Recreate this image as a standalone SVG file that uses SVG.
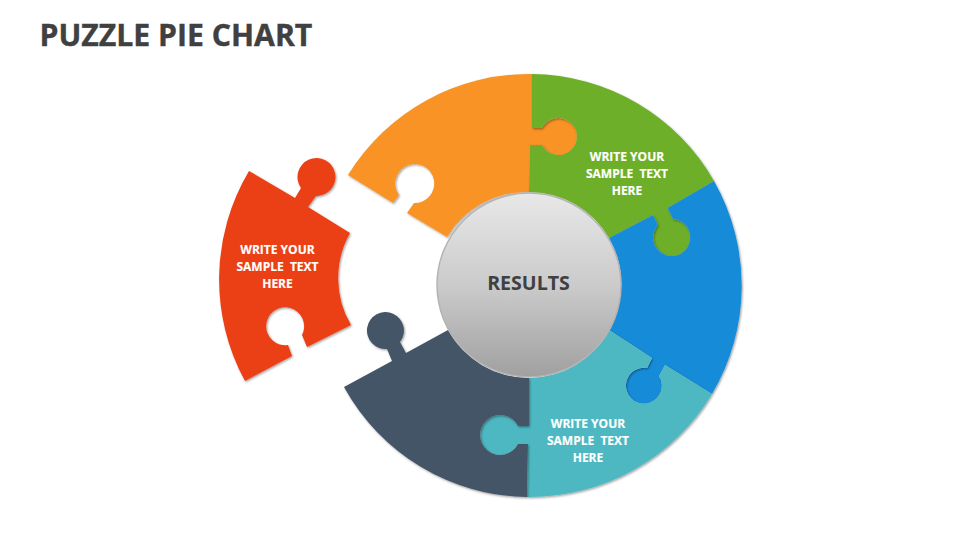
<svg xmlns="http://www.w3.org/2000/svg" width="960" height="540" viewBox="0 0 960 540">
<style>
.t{font-family:"Open Sans","Noto Sans","Liberation Sans",sans-serif;font-weight:700}
.l{font-size:12px;fill:#fff;text-anchor:middle;white-space:pre;stroke:#fff;stroke-width:.15px}
.p{filter:url(#s)}
</style>
<defs>
<filter id="s" x="-10%" y="-10%" width="120%" height="120%"><feDropShadow dx="1" dy="1.2" stdDeviation="1" flood-color="#000" flood-opacity=".38"/></filter>
<linearGradient id="g" x1="0" y1="0" x2="0" y2="1"><stop offset="0" stop-color="#e8e8e8"/><stop offset=".5" stop-color="#cbcbcb"/><stop offset="1" stop-color="#a0a0a0"/></linearGradient>
</defs>
<rect width="960" height="540" fill="#fff"/>
<text class="t" x="39.500" y="45.500" font-size="30.200" fill="#404040" stroke="#404040" stroke-width=".4">PUZZLE PIE CHART</text>
<g id="piece-orange"><path class="p" fill="#F99325" d="M348,175 A212,212 0 0 1 532,74 L532,128 L542,128 A18.500,18.500 0 1 1 542,145 L530,145 L529,192 A92,92 0 0 0 447,237 L407,213 L414,203 A19.500,19.500 0 1 0 399,195 L393,203 Z"/></g>
<g id="piece-green"><path class="p" fill="#6EAF29" d="M532,74 A212,212 0 0 1 714,181 L667.500,208 L673,219 A18.500,18.500 0 1 1 658,225 L653,215 L609,238 A92,92 0 0 0 529,192 L530,145 L542,145 A18.500,18.500 0 1 0 542,128 L532,128 Z"/>
<text class="t l" x="627" y="161">WRITE YOUR</text><text class="t l" x="627" y="178">SAMPLE  TEXT</text><text class="t l" x="627" y="195">HERE</text></g>
<g id="piece-blue"><path class="p" fill="#198CD8" d="M714,181 A212,212 0 0 1 712,394 L665,365 L659,376 A18,18 0 1 1 647,368 L652,358 L609,330 A92,92 0 0 0 609,238 L653,215 L658,225 A18.500,18.500 0 1 0 673,219 L667.500,208 Z"/></g>
<g id="piece-teal"><path class="p" fill="#4DB8C1" d="M609,330 L652,358 L647,368 A18,18 0 1 0 659,376 L665,365 L712,394 A212,212 0 0 1 527,497 L528,444 L518,444 A20,20 0 1 1 518,426 L529,426 L529,378 A92,92 0 0 0 609,330 Z"/>
<text class="t l" x="588" y="428">WRITE YOUR</text><text class="t l" x="588" y="445">SAMPLE  TEXT</text><text class="t l" x="588" y="462">HERE</text></g>
<g id="piece-navy"><path class="p" fill="#455468" d="M344,387 L392,361 L387,349 A18.500,18.500 0 1 1 400,342 L406,353 L448,330 A92,92 0 0 0 529,378 L529,426 L518,426 A20,20 0 1 0 518,444 L528,444 L527,497 A212,212 0 0 1 344,387 Z"/></g>
<g id="piece-red"><path class="p" fill="#EB3F14" d="M249,171 L295,198 L301,188 A19,19 0 1 1 316,196 L308,207 L350,233 A92,92 0 0 0 351,325 L307,347 L302,335 A19,19 0 1 0 288,345 L292,356 L245,381 A212,212 0 0 1 249,171 Z"/>
<text class="t l" x="277.500" y="254">WRITE YOUR</text><text class="t l" x="277.500" y="271">SAMPLE  TEXT</text><text class="t l" x="277.500" y="288">HERE</text></g>
<g id="center"><circle cx="529" cy="285" r="92" fill="url(#g)" stroke="#b4b4b4" stroke-width="1.500"/>
<text class="t" x="528.500" y="290" font-size="19.600" fill="#404040" text-anchor="middle">RESULTS</text></g>
<g id="connectors"/>
</svg>
